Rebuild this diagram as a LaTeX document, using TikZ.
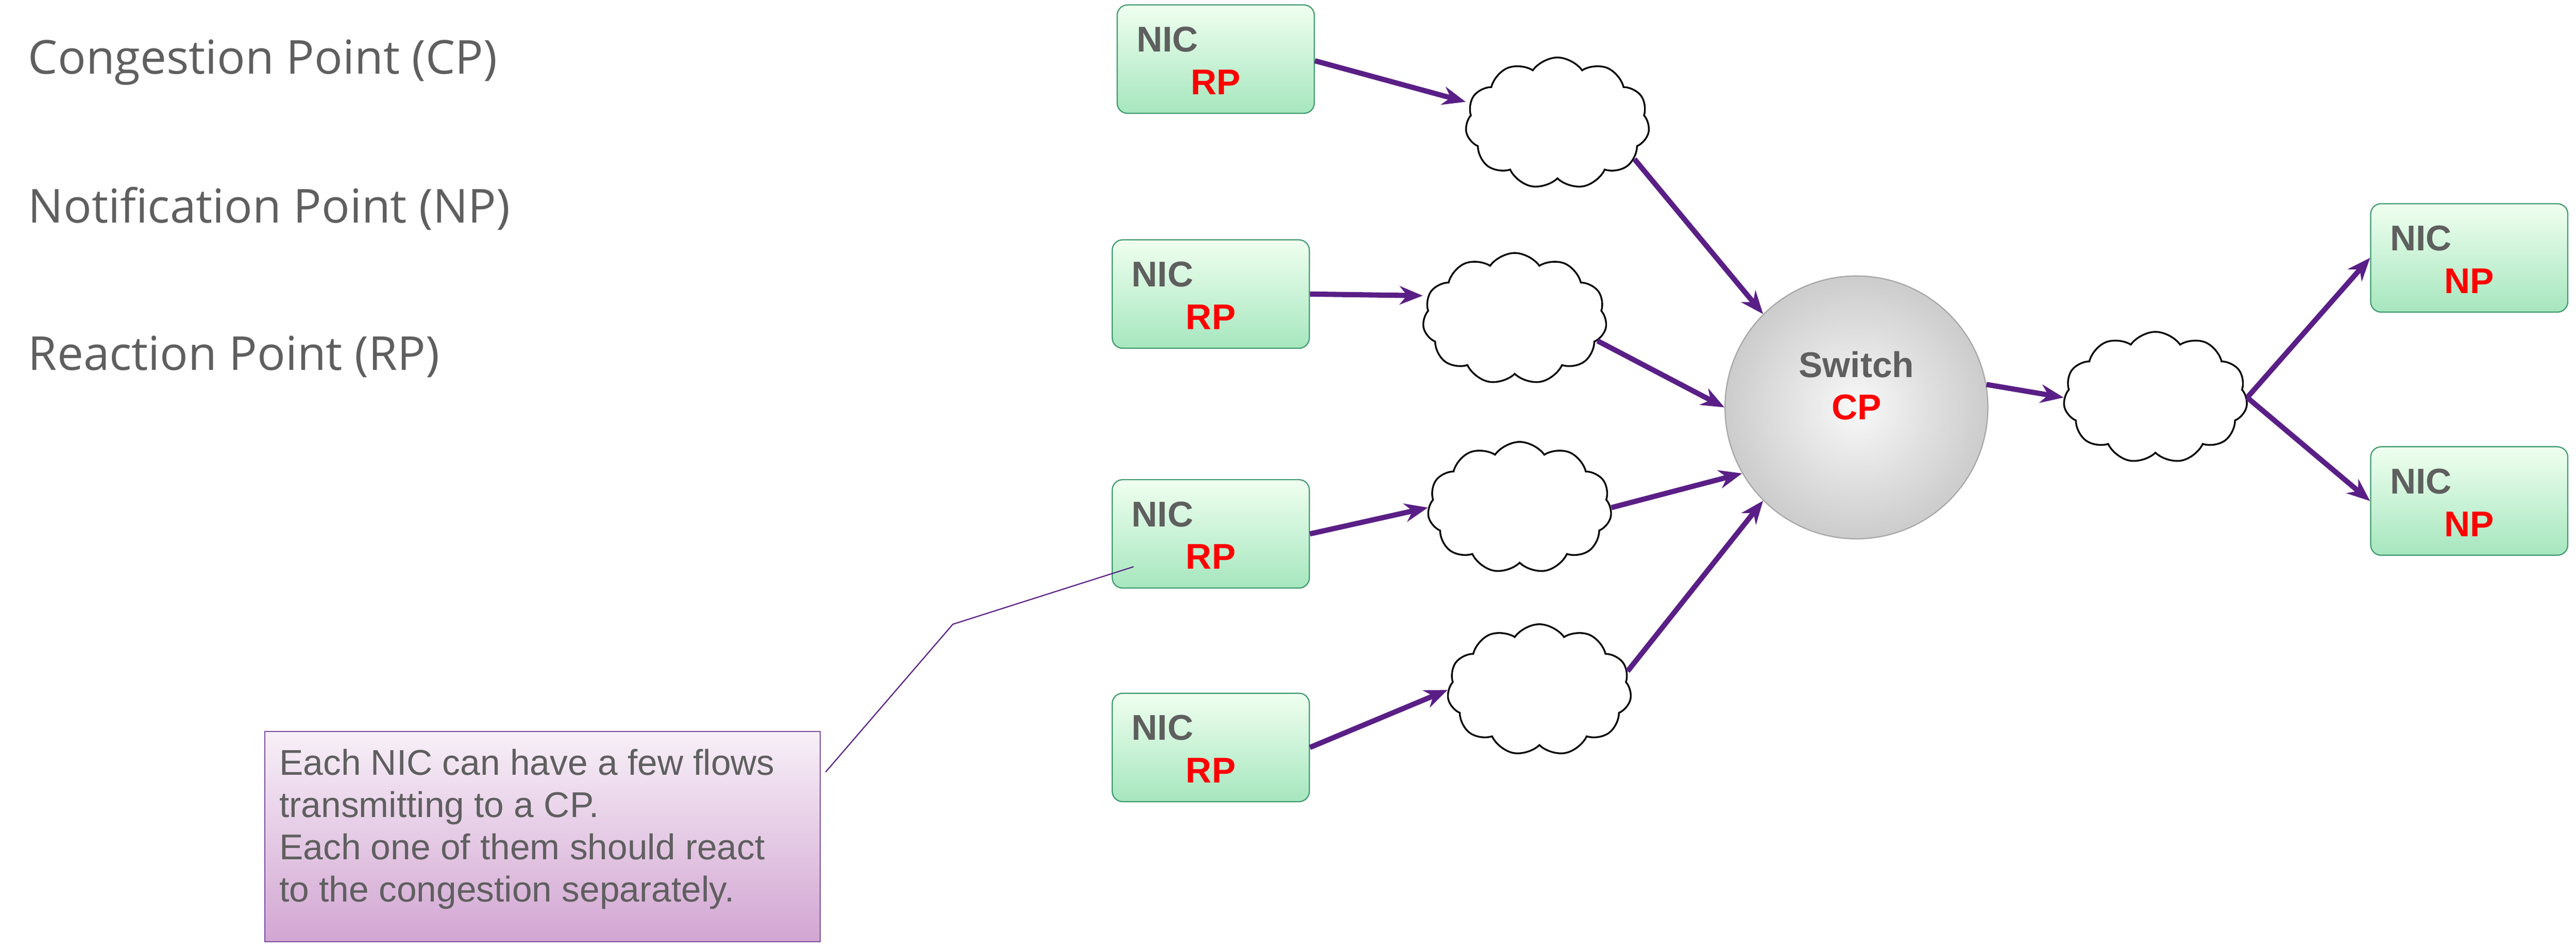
\documentclass[tikz,border=0pt]{standalone}
\usepackage{fontspec}
\setmainfont{Liberation Sans}
\newfontfamily\opensans{Open Sans}
\usetikzlibrary{shapes.symbols,arrows.meta,shadings}
\definecolor{arr}{HTML}{5A1F86}
\definecolor{txtg}{HTML}{5F5F5F}
\definecolor{boxb}{HTML}{3E9A6E}
\begin{document}
\begin{tikzpicture}[x=0.1cm,y=-0.1cm,
  nic/.style={draw=boxb,line width=2pt,rounded corners=18pt,top color=green!6!white,bottom color=green!45!teal!35!white,minimum width=120*0.1cm,minimum height=66*0.1cm,inner sep=0pt},
  cl/.style={cloud,cloud puffs=11,cloud puff arc=110,draw=black,line width=3pt,fill=white,aspect=1.4,minimum width=112*0.1cm,minimum height=80*0.1cm},
  ar/.style={draw=arr,line width=9pt,-{Stealth[length=40pt,width=32pt]}},
  lt/.style={anchor=west,text=txtg,font=\opensans\fontsize{81}{96}\selectfont},
  nt/.style={text=txtg,font=\bfseries\fontsize{62}{70}\selectfont},
  rt/.style={text=red,font=\bfseries\fontsize{62}{70}\selectfont}]
\useasboundingbox (0,0) rectangle (1568,579.5);
\node[lt] (t1) at (16,38) {Congestion Point (CP)};
\node[lt] (t2) at (16,127) {Notification Point (NP)};
\node[lt] (t3) at (16,217) {Reaction Point (RP)};
% NIC boxes
\foreach \n/\x/\y/\l in {b1/740/36/RP,b2/737/179/RP,b3/737/325/RP,b4/737/455/RP,n1/1503/157/NP,n2/1503/305/NP}{
  \node[nic] (\n) at (\x,\y) {};
  \node[nt,anchor=west] (\n t) at ([xshift=11*0.1cm,yshift=12*0.1cm]\n.west) {NIC};
  \node[rt] (\n r) at ([yshift=-14*0.1cm]\n.center) {\l};
}
% clouds
\node[cl] (c1) at (948,75) {};
\node[cl] (c2) at (922,194) {};
\node[cl] (c3) at (925,309) {};
\node[cl] (c4) at (937,420) {};
\node[cl] (c5) at (1312,242) {};
% switch
\node[circle,draw=gray!70,line width=2pt,shading=radial,inner color=gray!5,outer color=gray!40,minimum size=160*0.1cm] (sw) at (1130,248) {};
\node[nt] (swt) at (1130,222) {Switch};
\node[rt] (swc) at (1130,248) {CP};
% arrows
\draw[ar] (b1.east|-800,37) -- (c1.west|-890,62);
\draw[ar] (c1.-25) -- (sw.north west);
\draw[ar] (b2.east) -- (866,180);
\draw[ar] (c2.-15) -- (sw.west);
\draw[ar] (b3.east) -- (c3.west);
\draw[ar] (c3.east) -- (sw.-150);
\draw[ar] (b4.east) -- (c4.west);
\draw[ar] (c4.12) -- (sw.south west);
\draw[ar] (sw.10) -- (c5.west);
\draw[ar] (c5.east) -- (n1.west);
\draw[ar] (c5.east) -- (n2.west);
% callout
\node[draw=arr!80,line width=1.5pt,top color=violet!6!white,bottom color=violet!35!white,minimum width=338*0.1cm,minimum height=128*0.1cm,anchor=north west,inner sep=0pt] (co) at (161,445) {};
\node[anchor=north west,text=txtg,align=left,font=\fontsize{62}{73}\selectfont,inner sep=0pt] (cot) at (170,456) {Each NIC can have a few flows\\transmitting to a CP.\\Each one of them should react\\to the congestion separately.};
\coordinate (k) at (580,380);
\coordinate (p) at (690,345);
\draw[arr,line width=2pt] ([xshift=3*0.1cm,yshift=-25*0.1cm]co.north east) -- (k) -- (p);
\end{tikzpicture}
\end{document}
